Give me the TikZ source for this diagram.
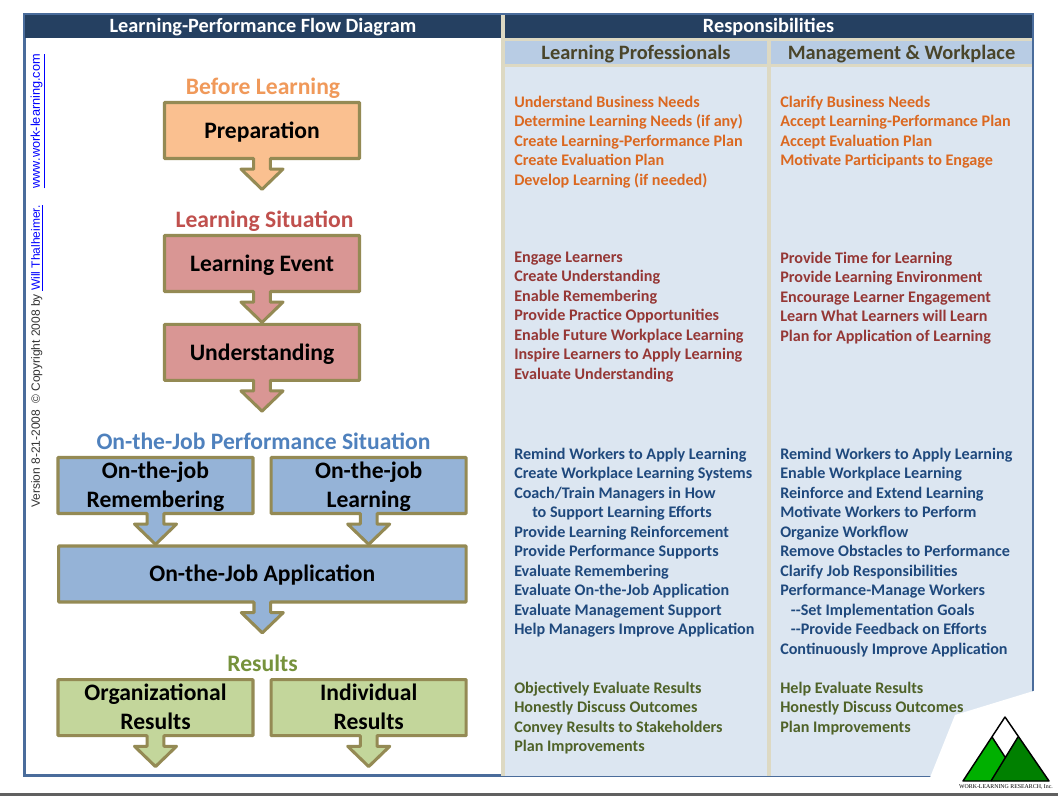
\documentclass[tikz,border=0pt]{standalone}
\usepackage{fontspec}
\setmainfont{Carlito}
\newfontfamily\arialfont{Liberation Sans}
\newfontfamily\logofont{Liberation Serif}
\usetikzlibrary{shapes.arrows}
\definecolor{frameblue}{HTML}{4A6C9B}
\definecolor{headblue}{HTML}{254061}
\definecolor{rule}{HTML}{DDD9C3}
\definecolor{colhead}{HTML}{B8CCE4}
\definecolor{colbody}{HTML}{DCE6F1}
\definecolor{coltext}{HTML}{4A452A}
\definecolor{edge}{HTML}{948A54}
\definecolor{prepfill}{HTML}{FAC090}
\definecolor{eventfill}{HTML}{D99694}
\definecolor{jobfill}{HTML}{95B3D7}
\definecolor{resultfill}{HTML}{C3D69B}
\definecolor{preptitle}{HTML}{F0995A}
\definecolor{eventtitle}{HTML}{C0504D}
\definecolor{jobtitle}{HTML}{4F81BD}
\definecolor{resulttitle}{HTML}{76923C}
\definecolor{preptext}{HTML}{DB6820}
\definecolor{eventtext}{HTML}{953735}
\definecolor{jobtext}{HTML}{1F497D}
\definecolor{resulttext}{HTML}{4F6228}
\definecolor{versiontext}{HTML}{333333}
\definecolor{logolight}{HTML}{00B000}
\definecolor{logodark}{HTML}{008000}
\definecolor{footgray}{HTML}{606060}
\newcommand{\pairtop}{\rule{0pt}{15pt}}
\begin{document}
\begin{tikzpicture}[x=0.75pt, y=-0.75pt,
    bar/.style={fill=headblue, text=white, inner sep=0pt, minimum height=17.25pt,
                text height=10.3pt, text depth=1pt,
                font=\fontsize{15.2}{16}\selectfont\bfseries},
    colbar/.style={fill=colhead, text=coltext, inner sep=0pt, minimum height=17.25pt,
                   text height=12pt, text depth=0.8pt,
                   font=\fontsize{15.3}{16}\selectfont\bfseries},
    title/.style={inner sep=0pt, font=\fontsize{17.7}{20}\selectfont\bfseries},
    flowbox/.style={arrow box, draw=edge, line width=2.3pt, line join=round,
                    minimum width=146.25pt, minimum height=42pt, inner sep=0pt,
                    align=center, font=\fontsize{17.7}{21.75}\selectfont\bfseries,
                    execute at begin node={\rule{0pt}{15.5pt}},
                    execute at end node={\rule[-3.7pt]{0pt}{0pt}},
                    arrow box shaft width=12.5pt, arrow box head extend=9.5pt,
                    arrow box head indent=0pt, arrow box tip angle=92,
                    arrow box arrows={south:22pt from border}},
    duties/.style={anchor=north west, inner sep=0pt, align=left,
                   execute at begin node=\strut,
                   font=\fontsize{12.1}{14.64}\selectfont\bfseries},
    link/.style={inner sep=0pt, anchor=west, rotate=90, text=versiontext,
                 font=\arialfont\fontsize{9}{10}\selectfont},
]
\useasboundingbox (0,0) rectangle (1058,796);

% Panels
\fill[frameblue] (23,13) rectangle (1034,777);
\fill[white] (26,38) rectangle (501,774);
\fill[rule] (501,15) rectangle (505,776);
\fill[rule] (505,38) rectangle (1032,67);
\fill[colbody] (505,67) rectangle (1032,776);
\fill[rule] (767,38) rectangle (771,776);

% Headers
\node[bar, minimum width=357pt] (flowhead) at (263,26.5) {Learning-Performance Flow Diagram};
\node[bar, minimum width=395.25pt] (dutyhead) at (768.5,26.5) {Responsibilities};
\node[colbar, minimum width=196.5pt] (prohead) at (636,52.5) {Learning Professionals};
\node[colbar, minimum width=195.75pt] (mgmthead) at (901.5,52.5) {Management \& Workplace};

% Version line
\node[link] (version) at (38,508) {Version 8-21-2008\enspace © Copyright 2008 by \textcolor{blue}{\underline{Will Thalheimer.}}\hspace*{12.75pt}\textcolor{blue}{\fontsize{9.55}{10}\selectfont\underline{www.work-learning.com}}};

% Flow
\node[title, text=preptitle] (before) at (263,88) {Before Learning};
\node[flowbox, fill=prepfill] (prep) at (262,130.5) {Preparation};

\node[title, text=eventtitle] (situation) at (264.5,221.5) {Learning Situation};
\node[flowbox, fill=eventfill] (event) at (262,263.5) {Learning Event};
\node[flowbox, fill=eventfill] (understanding) at (262,352.3) {Understanding};

\node[title, text=jobtitle] (jobsituation) at (263.5,441.5) {On-the-Job Performance Situation};
\node[flowbox, fill=jobfill] (remembering) at (155.5,485.5) {\pairtop On-the-job\\Remembering};
\node[flowbox, fill=jobfill] (joblearning) at (368.7,485.5) {\pairtop On-the-job\\Learning};
\node[flowbox, fill=jobfill, minimum width=305.6pt] (application) at (262.3,574) {On-the-Job Application};

\node[title, text=resulttitle] (results) at (262.5,663.5) {Results};
\node[flowbox, fill=resultfill] (orgresults) at (155.5,707.7) {\pairtop Organizational\\Results};
\node[flowbox, fill=resultfill] (indresults) at (368.7,707.7) {\pairtop Individual\\Results};

% Corner cut
\fill[white] (1040,689) -- (955,715) -- (929,780) -- (1040,780) -- cycle;

% Learning professionals
\node[duties, text=preptext] (proprep) at (514,95.5) {Understand Business Needs\\Determine Learning Needs (if any)\\Create Learning-Performance Plan\\Create Evaluation Plan\\Develop Learning (if needed)};
\node[duties, text=eventtext] (proevent) at (514,251.5) {Engage Learners\\Create Understanding\\Enable Remembering\\Provide Practice Opportunities\\Enable Future Workplace Learning\\Inspire Learners to Apply Learning\\Evaluate Understanding};
\node[duties, text=jobtext] (projob) at (514,447.5) {Remind Workers to Apply Learning\\Create Workplace Learning Systems\\Coach/Train Managers in How\\\hspace*{13.5pt}to Support Learning Efforts\\Provide Learning Reinforcement\\Provide Performance Supports\\Evaluate Remembering\\Evaluate On-the-Job Application\\Evaluate Management Support\\Help Managers Improve Application};
\node[duties, text=resulttext] (proresult) at (514,681.5) {Objectively Evaluate Results\\Honestly Discuss Outcomes\\Convey Results to Stakeholders\\Plan Improvements};

% Management and workplace
\node[duties, text=preptext] (mgmtprep) at (780,95.5) {Clarify Business Needs\\Accept Learning-Performance Plan\\Accept Evaluation Plan\\Motivate Participants to Engage};
\node[duties, text=eventtext] (mgmtevent) at (780,251.5) {Provide Time for Learning\\Provide Learning Environment\\Encourage Learner Engagement\\Learn What Learners will Learn\\Plan for Application of Learning};
\node[duties, text=jobtext] (mgmtjob) at (780,447.5) {Remind Workers to Apply Learning\\Enable Workplace Learning\\Reinforce and Extend Learning\\Motivate Workers to Perform\\Organize Workflow\\Remove Obstacles to Performance\\Clarify Job Responsibilities\\Performance-Manage Workers\\\hspace*{8pt}{-}{-}Set Implementation Goals\\\hspace*{8pt}{-}{-}Provide Feedback on Efforts\\Continuously Improve Application};
\node[duties, text=resulttext] (mgmtresult) at (780,681.5) {Help Evaluate Results\\Honestly Discuss Outcomes\\Plan Improvements};

% Logo
\fill[logolight] (1005,717) -- (963,781) -- (1049,781) -- cycle;
\fill[logodark] (1018,737) -- (991,781) -- (1049,781) -- cycle;
\fill[white] (1005,717) -- (992,737) -- (1005,757) -- (1018,737) -- cycle;
\draw[line width=1.1pt, line join=round] (1005,717) -- (963,781) -- (1049,781) -- cycle;
\draw[line width=1.1pt] (992,737) -- (1005,757) (1018,737) -- (991,781);
\node[inner sep=0pt, font=\logofont\fontsize{4.4}{6}\selectfont] (logotext) at (1006,787.5) {WORK-LEARNING RESEARCH, Inc.};

% Bottom bar
\fill[footgray] (0,793) rectangle (1058,796);
\end{tikzpicture}
\end{document}
